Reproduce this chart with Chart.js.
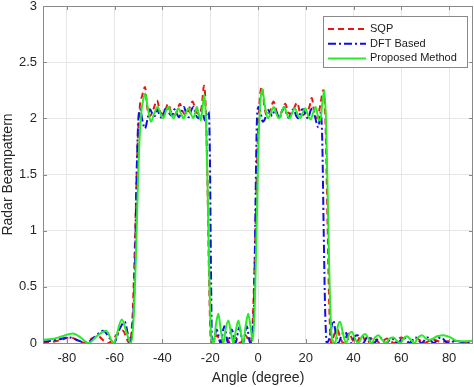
<!DOCTYPE html>
<html>
<head>
<meta charset="utf-8">
<script src="https://cdn.jsdelivr.net/npm/chart.js@4/dist/chart.umd.min.js"></script>
<style>
  html, body { margin: 0; padding: 0; background: #fff; }
  #wrap { width: 474px; height: 387px; }
</style>
</head>
<body>
<div id="wrap"><canvas id="myChart" width="474" height="387"></canvas></div>
<script>
const xTicks = [-80, -60, -40, -20, 0, 20, 40, 60, 80];
const legendNames = ['SQP', 'DFT Based', 'Proposed Method'];

// SQP
const sqpAngle = [-90, -86, -82, -78.5, -75, -72.5, -69.5, -67, -64.5, -62.5, -60.5, -58.5, -56.5, -55, -53.8,
  -52.5, -51.5, -50.5, -49.5, -48.5, -47.3, -46.4, -45.2, -43.8, -42.3, -41, -39.8, -38.7, -37.6, -36.3, -35,
  -33.8, -32.7, -31.5, -30.2, -28.9, -27.4, -26, -24.7, -23.6, -22.6, -21.8, -21.2, -20.5, -19.8, -19,
  -17.2, -15.5, -13.5, -11.5, -9.5, -7.5, -5.3, -3.2, -2.2, -1.3, -0.4, 0.5, 1.6, 2.7, 3.8, 5, 6.5, 7.8, 9,
  10.2, 11.4, 12.7, 14, 15.3, 16.4, 17.6, 19, 20.2, 21.5, 22.5, 23.6, 24.8, 26.1, 27.3, 28.2, 29, 29.8, 30.6,
  32, 33.2, 34.4, 35.6, 37, 38.2, 39.5, 41, 43.3, 45.6, 48.3, 51, 54, 57, 60, 63, 66.5, 69.5, 73, 77, 82, 86, 90];
const sqpValue = [0.0, 0.01, 0.03, 0.05, 0.02, 0.0, 0.04, 0.06, 0.02, 0.0, 0.04, 0.09, 0.11, 0.04, 0.0,
  0.25, 0.9, 1.7, 2.1, 2.2, 2.28, 2.1, 2.02, 2.08, 2.16, 2.06, 2.04, 2.08, 2.13, 2.05, 2.03,
  2.07, 2.13, 2.06, 2.03, 2.08, 2.15, 2.06, 2.04, 2.1, 2.29, 2.05, 1.5, 0.6, 0.05, 0.0,
  0.07, 0.0, 0.05, 0.0, 0.05, 0.0, 0.07, 0.0, 0.2, 0.8, 1.6, 2.1, 2.28, 2.1, 2.02, 2.06, 2.15, 2.06, 2.03,
  2.07, 2.13, 2.05, 2.04, 2.1, 2.14, 2.05, 2.03, 2.06, 2.1, 2.18, 2.05, 2.0, 2.12, 2.25, 2.0, 1.2, 0.35, 0.0,
  0.08, 0.12, 0.05, 0.0, 0.06, 0.09, 0.03, 0.0, 0.07, 0.0, 0.05, 0.0, 0.04, 0.0, 0.05, 0.0, 0.04, 0.0, 0.03, 0.01, 0.02, 0.01, 0.0];

// DFT Based
const dftAngle = [-90, -84, -79, -75, -72, -68.5, -64.8, -62, -60.3, -58, -55.8, -54.5, -53.7,
  -52.5, -51.6, -50.8, -50, -49.3, -48.4, -47.3, -46.2, -45.2, -44.2, -43.2, -42.2, -41.2, -40.1, -39.1,
  -38.1, -37, -36, -35, -34, -33, -32, -31, -30, -29, -28, -27, -26, -25, -24, -23, -22.2, -21.3, -20.6,
  -20.1, -19.7, -19.3, -18.8, -17.3, -15.7, -14.1, -12.6, -11, -9.4, -7.8, -6.3, -4.7, -3.3, -2.3, -1.6, -1,
  -0.5, 0.2, 1, 2, 3, 4, 5, 6, 7, 8, 9, 10, 11, 12, 13, 14, 15, 16, 17, 18, 19, 20, 21, 22, 23, 24, 25.3,
  26.2, 26.9, 27.5, 28.1, 28.8, 30, 31.5, 32.8, 33.6, 35.2, 36.5, 37.8, 38.8, 40.5, 41.7, 43, 44, 46, 48.5,
  51, 53.5, 56, 58.5, 61, 63.5, 66, 68.5, 71, 73.5, 76.5, 79.5, 83, 86, 90];
const dftValue = [0.01, 0.03, 0.05, 0.02, 0.0, 0.05, 0.11, 0.04, 0.0, 0.12, 0.19, 0.08, 0.0,
  0.15, 0.6, 1.5, 2.02, 2.08, 1.98, 1.91, 2.0, 2.08, 2.04, 2.02, 2.08, 2.03, 2.0, 2.07,
  2.1, 2.04, 2.02, 2.08, 2.04, 2.01, 2.07, 2.1, 2.04, 2.01, 2.07, 2.1, 2.03, 2.0, 2.06, 2.04, 1.98, 2.05, 2.06,
  1.6, 0.7, 0.05, 0.0, 0.12, 0.0, 0.15, 0.0, 0.12, 0.0, 0.14, 0.0, 0.15, 0.0, 0.12, 0.4, 1.3,
  1.95, 2.1, 2.06, 1.97, 2.0, 2.08, 2.05, 2.02, 2.08, 2.04, 2.0, 2.06, 2.1, 2.04, 2.0, 2.06, 2.08, 2.02, 2.0, 2.07, 2.08, 2.02, 2.0, 2.07, 2.09, 2.0, 1.92,
  2.05, 1.8, 1.0, 0.3, 0.0, 0.05, 0.2, 0.05, 0.0, 0.08, 0.1, 0.03, 0.0, 0.06, 0.07, 0.02, 0.0, 0.06, 0.0,
  0.05, 0.0, 0.04, 0.0, 0.05, 0.0, 0.05, 0.0, 0.05, 0.0, 0.05, 0.0, 0.02, 0.005, 0.01];

// Proposed Method
const propAngle = [-90, -86, -82, -77.5, -74, -71, -67, -63.5, -60.5, -57, -55, -53.2,
  -52, -51, -50, -49, -48, -47.2, -46.2, -44.8, -43.5, -42, -40.8, -39.7, -38.6, -37.5, -36.4, -35.4,
  -34.3, -33.3, -32.2, -31.2, -30.1, -29.1, -28.1, -27.1, -26.3, -25.6, -24.7, -23.9, -23.2, -22.5, -21.8,
  -21.2, -20.5, -19.7, -18.6, -17.5, -16.6, -15.6, -14.5, -13.4, -12.4, -11.3, -10.3, -9.2, -8.2, -7.2, -6.2,
  -5.1, -4.1, -3.1, -2.2, -1.4, -0.6, 0.1, 0.9, 1.8, 2.8, 4.2, 5.5, 6.6, 7.7, 8.8, 9.9, 11, 12.1, 13.2, 14.3,
  15.4, 16.5, 17.6, 18.7, 19.8, 20.9, 22, 23.1, 24.2, 25.2, 26.1, 27, 27.8, 28.5, 29.2, 30, 30.9, 32.3,
  33.4, 34.4, 35.6, 36.9, 38.2, 39.3, 40.6, 42, 43.5, 44.9, 46.2, 47.6, 49, 50.4, 51.9, 53.5, 55.1, 56.7,
  58.1, 59.6, 61, 62.3, 63.9, 65.5, 67, 68.6, 70.3, 72, 75, 77.7, 80.5, 83, 86, 90];
const propValue = [0.03, 0.035, 0.06, 0.085, 0.045, 0.0, 0.07, 0.11, 0.0, 0.21, 0.09, 0.0,
  0.25, 0.85, 1.6, 2.02, 2.17, 2.22, 2.1, 1.97, 2.04, 2.1, 2.04, 2.0, 2.06, 2.1, 2.04, 2.0,
  2.05, 2.09, 2.04, 2.0, 2.05, 2.09, 2.04, 2.0, 2.05, 2.1, 2.03, 1.98, 2.1, 2.21, 2.0,
  1.5, 0.7, 0.1, 0.0, 0.18, 0.26, 0.12, 0.0, 0.14, 0.2, 0.09, 0.0, 0.12, 0.2, 0.09, 0.0,
  0.16, 0.26, 0.14, 0.02, 0.3, 1.0, 1.7, 2.12, 2.26, 2.12, 2.0, 2.06, 2.1, 2.04, 2.0, 2.06, 2.1, 2.04, 2.0, 2.05,
  2.09, 2.04, 2.0, 2.05, 2.09, 2.03, 1.99, 2.05, 2.1, 2.0, 1.98, 2.15, 2.25, 1.95, 1.3, 0.5, 0.05, 0.0,
  0.15, 0.19, 0.08, 0.0, 0.08, 0.1, 0.04, 0.0, 0.06, 0.08, 0.04, 0.0, 0.05, 0.07, 0.03, 0.0, 0.04, 0.05,
  0.02, 0.0, 0.04, 0.06, 0.03, 0.0, 0.05, 0.07, 0.04, 0.03, 0.06, 0.07, 0.05, 0.02, 0.015, 0.02];

const lineColors = ['rgb(235,20,20)', 'rgb(15,15,225)', 'rgb(40,235,40)'];
const lineDashes = [[6, 4], [8, 3, 2, 3], []];

const toPoints = (xs, ys) => xs.map((x, i) => ({ x: x, y: ys[i] }));
const FONT = '"Liberation Sans", Arial, Helvetica, sans-serif';

// MATLAB style box, inner ticks and legend
const matlabBox = {
  id: 'matlabBox',
  afterDraw(chart) {
    const ctx = chart.ctx;
    const a = chart.chartArea;
    const xs = chart.scales.x;
    const ys = chart.scales.y;
    ctx.save();
    ctx.strokeStyle = '#8a8a8a';
    ctx.lineWidth = 1;
    ctx.strokeRect(Math.round(a.left) + 0.5, Math.round(a.top) + 0.5,
      Math.round(a.right - a.left) - 1, Math.round(a.bottom - a.top));
    ctx.beginPath();
    xTicks.forEach(v => {
      const px = Math.round(xs.getPixelForValue(v)) + 0.5;
      ctx.moveTo(px, a.bottom); ctx.lineTo(px, a.bottom - 4);
      ctx.moveTo(px, a.top); ctx.lineTo(px, a.top + 4);
    });
    ys.ticks.forEach(t => {
      const py = Math.round(ys.getPixelForValue(t.value)) + 0.5;
      ctx.moveTo(a.left, py); ctx.lineTo(a.left + 4, py);
      ctx.moveTo(a.right, py); ctx.lineTo(a.right - 4, py);
    });
    ctx.stroke();

    // legend
    const bx = 323.5, by = 16.5, bw = 144, bh = 51;
    ctx.fillStyle = '#fff';
    ctx.fillRect(bx, by, bw, bh);
    ctx.strokeStyle = '#8a8a8a';
    ctx.strokeRect(bx, by, bw, bh);
    ctx.font = '11px ' + FONT;
    ctx.textBaseline = 'middle';
    legendNames.forEach((name, i) => {
      const y = 29 + i * 14.7;
      ctx.strokeStyle = lineColors[i];
      ctx.lineWidth = 2;
      ctx.setLineDash(lineDashes[i]);
      ctx.beginPath();
      ctx.moveTo(328, y); ctx.lineTo(366, y);
      ctx.stroke();
      ctx.setLineDash([]);
      ctx.fillStyle = '#1a1a1a';
      ctx.fillText(name, 370, y);
    });
    ctx.restore();
  }
};

const chart = new Chart(document.getElementById('myChart'), {
  type: 'line',
  data: {
    datasets: [
      { label: legendNames[0], data: toPoints(sqpAngle, sqpValue), order: 3 },
      { label: legendNames[1], data: toPoints(dftAngle, dftValue), order: 2 },
      { label: legendNames[2], data: toPoints(propAngle, propValue), order: 1 }
    ].map((d, i) => Object.assign(d, {
      borderColor: lineColors[i],
      borderDash: lineDashes[i],
      borderWidth: 2,
      pointRadius: 0,
      fill: false,
      cubicInterpolationMode: 'monotone'
    }))
  },
  options: {
    responsive: false,
    animation: false,
    layout: { padding: { left: 0, right: 1, top: 6, bottom: 0 } },
    plugins: { legend: { display: false }, tooltip: { enabled: false } },
    scales: {
      x: {
        type: 'linear',
        min: -90,
        max: 90,
        afterBuildTicks: s => { s.ticks = xTicks.map(v => ({ value: v })); },
        afterFit: s => { s.height = 44; s.paddingLeft = 0; s.paddingRight = 0; },
        grid: { color: '#e6e6e6', drawTicks: false },
        border: { display: false },
        ticks: { color: '#262626', font: { family: FONT, size: 13 }, padding: 8, maxRotation: 0 },
        title: { display: true, text: 'Angle (degree)', color: '#262626', font: { family: FONT, size: 14 }, padding: 0 }
      },
      y: {
        min: 0,
        max: 3,
        ticks: {
          stepSize: 0.5, color: '#262626', font: { family: FONT, size: 13 }, padding: 6,
          callback: v => String(v)
        },
        afterFit: s => { s.width = 43; s.paddingTop = 0; s.paddingBottom = 0; },
        grid: { color: '#e6e6e6', drawTicks: false },
        border: { display: false },
        title: { display: true, text: 'Radar Beampattern', color: '#262626', font: { family: FONT, size: 14 }, padding: 0 }
      }
    }
  },
  plugins: [matlabBox]
});
</script>
</body>
</html>
